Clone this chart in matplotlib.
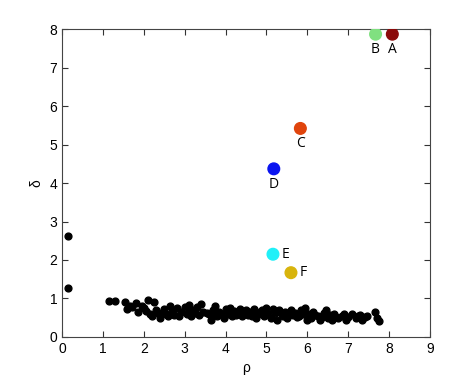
import numpy as np
import matplotlib
matplotlib.use("Agg")
import matplotlib.pyplot as plt

plt.rcParams['font.family'] = ['Liberation Sans', 'DejaVu Sans']

# cluster centres
centre_names = ["A", "B", "C", "D", "E", "F"]
centre_rho = [8.08, 7.67, 5.83, 5.18, 5.16, 5.60]
centre_delta = [7.87, 7.87, 5.42, 4.37, 2.15, 1.67]
centre_colors = ["#8b0a0a", "#80e080", "#e0440c", "#0a14f0", "#20f0f8", "#d8b40c"]

# remaining points (rho, delta)
rho = [0.15, 0.15,
       1.15, 1.30, 1.55, 1.60, 1.70, 1.80, 1.85, 1.95, 2.00, 2.10, 2.15, 2.20,
       2.25, 2.30, 2.35, 2.40, 2.50, 2.55, 2.60, 2.65, 2.70, 2.80, 2.85, 2.90,
       3.00, 3.05, 3.10, 3.15, 3.20, 3.25, 3.30, 3.35, 3.40, 3.45, 3.60, 3.65,
       3.70, 3.75, 3.80, 3.85, 3.90, 3.95, 4.00, 4.05, 4.10, 4.15, 4.20, 4.30,
       4.35, 4.40, 4.50, 4.55, 4.60, 4.70, 4.75, 4.80, 4.90, 4.95, 5.00, 5.05,
       5.10, 5.15, 5.20, 5.25, 5.30, 5.40, 5.45, 5.50, 5.60, 5.65, 5.70, 5.80,
       5.85, 5.95, 6.00, 6.05, 6.10, 6.15, 6.25, 6.30, 6.40, 6.45, 6.50, 6.60,
       6.65, 6.75, 6.85, 6.95, 7.00, 7.10, 7.20, 7.30, 7.35, 7.45, 7.65, 7.70,
       7.75, 1.65, 2.05, 2.45, 2.75, 3.12, 3.55, 3.68, 4.25, 4.45, 4.65, 4.85,
       5.35, 5.55, 5.75, 5.90, 6.20, 6.35, 6.55, 6.70, 6.90, 7.25, 7.40]
delta = [2.63, 1.27,
         0.93, 0.93, 0.90, 0.72, 0.78, 0.88, 0.65, 0.80, 0.75, 0.95, 0.60, 0.55,
         0.92, 0.70, 0.62, 0.50, 0.72, 0.60, 0.55, 0.80, 0.68, 0.75, 0.55, 0.65,
         0.78, 0.60, 0.82, 0.55, 0.70, 0.62, 0.78, 0.58, 0.85, 0.65, 0.60, 0.45,
         0.70, 0.80, 0.55, 0.65, 0.60, 0.50, 0.72, 0.60, 0.75, 0.55, 0.68, 0.62,
         0.72, 0.55, 0.70, 0.58, 0.65, 0.72, 0.50, 0.60, 0.70, 0.55, 0.75, 0.60,
         0.50, 0.72, 0.62, 0.45, 0.70, 0.55, 0.65, 0.50, 0.70, 0.58, 0.62, 0.55,
         0.70, 0.75, 0.45, 0.60, 0.50, 0.65, 0.55, 0.45, 0.62, 0.70, 0.50, 0.45,
         0.60, 0.50, 0.55, 0.45, 0.52, 0.60, 0.50, 0.58, 0.45, 0.55, 0.65, 0.50,
         0.42, 0.80, 0.68, 0.62, 0.58, 0.70, 0.62, 0.55, 0.58, 0.64, 0.55, 0.66,
         0.62, 0.60, 0.52, 0.60, 0.58, 0.52, 0.58, 0.52, 0.60, 0.55, 0.52]

fig = plt.figure(figsize=(4.74, 3.79), dpi=100)
ax = fig.add_axes([0.131, 0.111, 0.776, 0.812])

ax.scatter(rho, delta, s=24, c='black', zorder=2)
ax.scatter(centre_rho, centre_delta, s=70, c=centre_colors, zorder=3)

# letter positions: below for A-D, right for E, F
for name, x, y in zip(centre_names, centre_rho, centre_delta):
    if name in ("E", "F"):
        ax.text(x + 0.2, y, name, fontsize=10, va='center', ha='left',
                family=['Open Sans', 'DejaVu Sans'])
    else:
        ax.text(x, y - 0.2, name, fontsize=10, va='top', ha='center',
                family=['Open Sans', 'DejaVu Sans'])

ax.set_xlim(0, 9)
ax.set_ylim(0, 8)
ax.set_xticks(range(10))
ax.set_yticks(range(9))
ax.tick_params(direction='in', top=True, right=True, labelsize=10,
               length=4, color='#333333')
for sp in ax.spines.values():
    sp.set_color('#444444')
ax.set_xlabel("ρ", fontsize=10)
ax.set_ylabel("δ", fontsize=10)

fig.savefig("out.png", dpi=100)
